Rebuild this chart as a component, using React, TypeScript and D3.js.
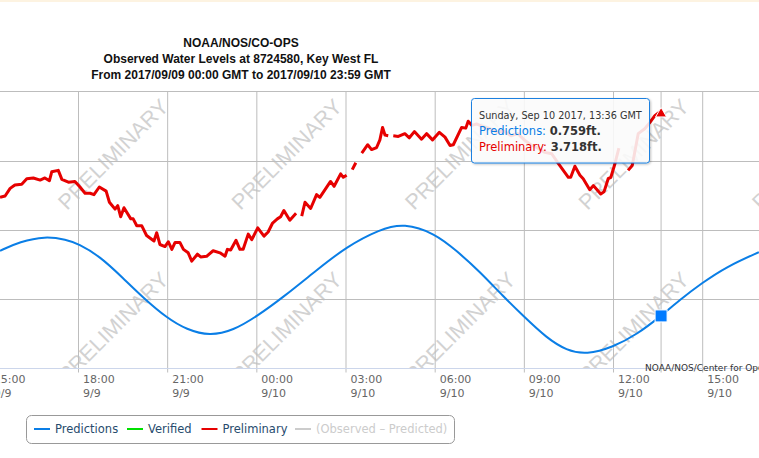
import React from 'react';
import * as d3 from 'd3';

const width = 759;
const height = 458;

const titleLines = [
  'NOAA/NOS/CO-OPS',
  'Observed Water Levels at 8724580, Key West FL',
  'From 2017/09/09 00:00 GMT to 2017/09/10 23:59 GMT',
];

// hours since 2017/09/09 00:00 GMT
const tickHours = [15, 18, 21, 24, 27, 30, 33, 36, 39];
const tickTimes = ['15:00', '18:00', '21:00', '00:00', '03:00', '06:00', '09:00', '12:00', '15:00'];
const tickDates = ['9/9', '9/9', '9/9', '9/10', '9/10', '9/10', '9/10', '9/10', '9/10'];
const gridFeet = [1, 2, 3, 4];

const predHours = [
  15.36, 16.03, 16.87, 17.6, 17.99, 18.72, 19.51, 20.18, 20.97, 21.64, 22.42, 23.21, 23.99, 24.89, 26.01, 27.02, 28.14,
  28.95, 29.99, 30.72, 31.5, 32.29, 32.96, 33.75, 34.42, 35.09, 35.99, 36.78, 37.6, 38.23, 38.96, 39.8, 40.89,
];
const predFeet = [
  1.7, 1.83, 1.91, 1.86, 1.8, 1.62, 1.3, 1.02, 0.73, 0.56, 0.47, 0.55, 0.75, 1.03, 1.42, 1.76, 2.01,
  2.1, 1.95, 1.7, 1.4, 1.04, 0.76, 0.44, 0.26, 0.2, 0.31, 0.49, 0.759, 0.99, 1.23, 1.47, 1.68,
];

// null = missing reading, the line breaks there
const prelimHours = [
  15.36, 15.53, 15.7, 15.86, 16.09, 16.26, 16.48, 16.71, 16.87, 17.02, 17.1, 17.32, 17.44, 17.66, 17.88, 18.05, 18.22,
  18.39, 18.52, 18.7, 18.93, 19.04, 19.23, 19.32, 19.42, 19.53, 19.76, 19.84, 19.96, 20.13, 20.29, 20.54, 20.63, 20.74,
  20.91, 21.02, 21.14, 21.25, 21.41, 21.53, 21.69, 21.81, 22.0, 22.11, 22.31, 22.53, 22.76, 22.93, 23.01, 23.12, 23.3,
  23.43, 23.54, 23.71, 23.83, 24.03, 24.24, 24.38, 24.53, 24.69, 24.8, 24.91, 25.11, 25.32, 25.41, 25.51, 25.62, 25.81,
  26.01, 26.12, 26.48, 26.6, 26.82, 26.91, 27.02, 27.12, 27.21, 27.33, 27.43, 27.53, 27.73, 27.86, 28.03, 28.14, 28.23,
  28.31, 28.42, 28.5, 28.59, 28.76, 28.98, 29.13, 29.3, 29.54, 29.71, 29.91, 30.14, 30.33, 30.5, 30.61, 30.89, 31.03,
  31.11, 31.23, 31.39, 31.61, 31.84, 32.08, 32.31, 32.55, 32.78, 33.02, 33.22, 33.41, 33.69, 33.92, 34.14, 34.31, 34.48,
  34.56, 34.7, 34.87, 34.98, 35.2, 35.32, 35.57, 35.68, 35.82, 35.91, 36.05, 36.18, 36.35, 36.49, 36.63, 36.83, 37.05,
  37.22, 37.39, 37.6,
];
const prelimFeet = [
  2.47, 2.49, 2.6, 2.65, 2.66, 2.74, 2.75, 2.72, 2.75, 2.71, 2.84, 2.86, 2.73, 2.69, 2.7, 2.62, 2.53,
  2.53, 2.51, 2.62, 2.56, 2.4, 2.3, 2.35, 2.19, 2.32, 2.16, 2.16, 2.06, 2.06, 1.92, 1.84, 1.96, 1.79,
  1.76, 1.83, 1.72, 1.82, 1.82, 1.72, 1.67, 1.55, 1.65, 1.61, 1.62, 1.7, 1.67, 1.62, 1.72, 1.71, 1.85,
  1.72, 1.72, 1.94, 1.86, 2.03, 1.91, 1.97, 2.1, 2.16, 2.19, 2.28, 2.14, 2.24, null, 2.2, 2.4, 2.31,
  2.51, 2.47, 2.7, 2.63, 2.81, 2.76, 2.79, null, 2.87, 2.97, null, 3.11, 3.23, 3.16, 3.19, 3.3, 3.48,
  3.37, 3.36, null, 3.36, 3.35, 3.39, 3.33, 3.42, 3.31, 3.39, 3.3, 3.41, 3.34, 3.22, 3.23, 3.48, 3.47,
  3.57, 3.51, 3.53, 3.49, 3.46, 3.41, 3.43, 3.36, 3.39, 3.29, 3.23, 3.19, 3.12, 3.1, 2.96, 2.86, 2.76,
  2.76, 2.92, 2.79, 2.74, 2.58, 2.64, 2.52, 2.55, 2.74, 2.76, 2.96, 3.18, null, 2.86, 2.93, 3.39, 3.46,
  3.55, 3.65, 3.718,
];

const legendNames = ['Predictions', 'Verified', 'Preliminary', '(Observed – Predicted)'];
const legendColors = ['#0a7ee6', '#00e000', '#e60000', '#cccccc'];
const legendX = [34, 127, 201.5, 295];

const watermarkX = [67, 240.5, 414, 587.5, 761];
const watermarkY = [211, 384];

const tooltipTime = 'Sunday, Sep 10 2017, 13:36 GMT';
const hoverHour = 37.6;
const hoverPred = 0.759;
const hoverPrelim = 3.718;

const axisFont = '"DejaVu Sans", sans-serif';

const App: React.FC = () => {
  const x = d3.scaleLinear().domain([18, 39]).range([78.5, 702.7]);
  const y = d3.scaleLinear().domain([0, 4]).range([368.5, 91.4]);

  const predLine = d3
    .line<number>()
    .x((h) => x(h))
    .y((_, i) => y(predFeet[i]))
    .curve(d3.curveBasis);

  const prelimLine = d3
    .line<number>()
    .defined((_, i) => prelimFeet[i] !== null)
    .x((h) => x(h))
    .y((_, i) => y(prelimFeet[i] as number));

  const mx = x(hoverHour);
  const my = y(hoverPred);
  const ty = y(hoverPrelim) + 2;

  return (
    <svg width={width} height={height} style={{ position: 'absolute', left: 0, top: 0, background: '#fff' }}>
      <defs>
        <clipPath id="plot">
          <rect x={0} y={91} width={width} height={277.5} />
        </clipPath>
        <filter id="tipShadow" x="-5%" y="-5%" width="110%" height="115%">
          <feDropShadow dx={1} dy={1} stdDeviation={1.2} floodColor="#000" floodOpacity={0.25} />
        </filter>
      </defs>
      <rect x={0} y={0} width={width} height={2} fill="#fdf3e1" />

      <g clipPath="url(#plot)">
        {watermarkY.map((wy) =>
          watermarkX.map((wx) => (
            <text
              key={`${wx}-${wy}`}
              transform={`translate(${wx},${wy}) rotate(-45)`}
              fontFamily="'Liberation Sans', sans-serif"
              fontSize={21.5}
              fill="#d2d2d2"
            >
              PRELIMINARY
            </text>
          )),
        )}
      </g>

      {gridFeet.map((f) => (
        <line key={f} x1={0} x2={width} y1={Math.round(y(f)) + 0.5} y2={Math.round(y(f)) + 0.5} stroke="#bdbdbd" />
      ))}
      {tickHours.map((h) => (
        <line key={h} x1={x(h)} x2={x(h)} y1={91} y2={372.5} stroke="#bdbdbd" />
      ))}
      <line x1={0} x2={width} y1={368.5} y2={368.5} stroke="#ccd6eb" />
      <line x1={mx} x2={mx} y1={91} y2={372.5} stroke="#bdbdbd" />

      {tickHours.map((h, i) => (
        <g key={h} fontFamily={axisFont} fontSize={11} fill="#666">
          <text x={x(h) + 4.5} y={383}>{tickTimes[i]}</text>
          <text x={x(h) + 4.5} y={397}>{tickDates[i]}</text>
        </g>
      ))}

      <path d={predLine(predHours) ?? ''} fill="none" stroke="#0a7ee6" strokeWidth={2} />
      <path d={prelimLine(prelimHours) ?? ''} fill="none" stroke="#e60000" strokeWidth={3} strokeLinejoin="round" />

      <rect x={mx - 6} y={my - 6} width={12} height={12} fill="#007bff" stroke="#fff" />
      <path d={`M${mx},${ty - 5.5}L${mx + 5.5},${ty + 4}L${mx - 5.5},${ty + 4}Z`} fill="#e60000" stroke="#fff" />

      <text x={645} y={371} fontFamily={axisFont} fontSize={9} fill="#333">
        NOAA/NOS/Center for Operational Oceanographic Products and Services
      </text>

      {titleLines.map((t, i) => (
        <text
          key={t}
          x={241}
          y={47 + i * 16}
          textAnchor="middle"
          fontFamily="'Liberation Sans', sans-serif"
          fontWeight="bold"
          fontSize={12}
          fill="#111"
        >
          {t}
        </text>
      ))}

      <g filter="url(#tipShadow)">
        <rect x={471.5} y={98.5} width={178} height={64.5} rx={3} fill="#fff" fillOpacity={0.85} stroke="#1a80e0" />
      </g>
      <g fontFamily={axisFont}>
        <text x={479} y={119} fontSize={9.7} fill="#333">{tooltipTime}</text>
        <text x={479} y={135} fontSize={11.5}>
          <tspan fill="#0a7ee6">Predictions: </tspan>
          <tspan fill="#333" fontWeight="bold">{hoverPred}ft.</tspan>
        </text>
        <text x={479} y={151} fontSize={11.5}>
          <tspan fill="#e60000">Preliminary: </tspan>
          <tspan fill="#333" fontWeight="bold">{hoverPrelim}ft.</tspan>
        </text>
      </g>

      <rect x={26.5} y={415.5} width={428} height={28} rx={5} fill="none" stroke="#999" />
      {legendNames.map((name, i) => (
        <g key={name}>
          <line x1={legendX[i]} x2={legendX[i] + 16} y1={429} y2={429} stroke={legendColors[i]} strokeWidth={2} />
          <text
            x={legendX[i] + 21}
            y={433}
            fontFamily={axisFont}
            fontSize={11.5}
            fill={i === 3 ? '#cccccc' : '#274b6d'}
          >
            {name}
          </text>
        </g>
      ))}
    </svg>
  );
};

export default App;
